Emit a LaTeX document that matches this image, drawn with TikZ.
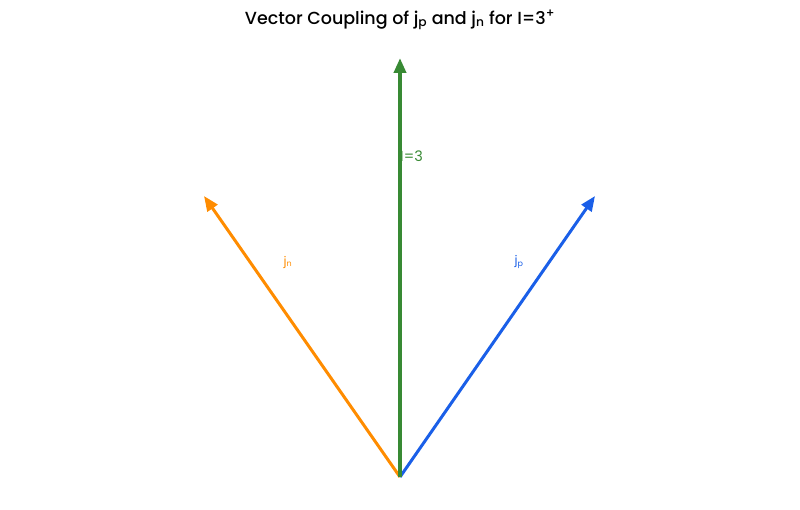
\documentclass[tikz,border=0pt]{standalone}
\usepackage{fontspec}
\setmainfont{Poppins}
\newfontfamily\titlefont{Poppins Medium}
\usetikzlibrary{arrows.meta}
\definecolor{vgreen}{HTML}{388A34}
\definecolor{vorange}{HTML}{FF8C00}
\definecolor{vblue}{HTML}{1A5FE8}
\tikzset{
  vec/.style={line width=3pt, -{Triangle[length=15pt,width=12pt]}},
  lbl/.style={font=\fontsize{12}{14}\selectfont, inner sep=0pt}
}
\begin{document}
\begin{tikzpicture}[x=1pt,y=-1pt]
\useasboundingbox (0,0) rectangle (800,510);
\node (title) at (400,20) {\titlefont\fontsize{17.5}{20}\selectfont Vector Coupling of j\textsubscript{p} and j\textsubscript{n} for I=3\textsuperscript{+}};
\coordinate (o) at (400,477);
\coordinate (I) at (400,58);
\coordinate (jn) at (204,196);
\coordinate (jp) at (595,196);
\draw[vec, vorange] (o) -- (jn);
\draw[vec, vblue] (o) -- (jp);
\draw[vec, vgreen, line width=4pt] (o) -- (I);
\node[lbl, text=vgreen, font=\fontsize{14.5}{16}\selectfont, anchor=west] (Il) at (400,156) {I=3};
\node[lbl, text=vorange] (jnl) at (288,262) {j\textsubscript{n}};
\node[lbl, text=vblue] (jpl) at (519,262) {j\textsubscript{p}};
\end{tikzpicture}
\end{document}
